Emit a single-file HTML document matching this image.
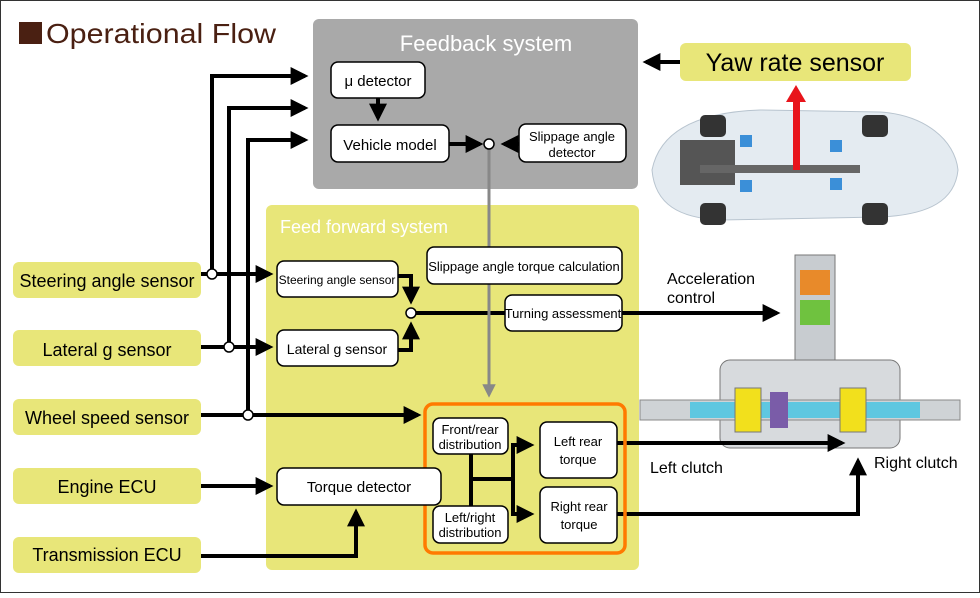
<!DOCTYPE html>
<html><head><meta charset="utf-8"><style>
body{margin:0;width:980px;height:593px;overflow:hidden;background:#fff;font-family:"Liberation Sans",sans-serif}
</style></head><body>
<svg width="980" height="593" viewBox="0 0 980 593" xmlns="http://www.w3.org/2000/svg" font-family="Liberation Sans, sans-serif">
<defs>
<marker id="a" markerWidth="4.5" markerHeight="4.5" refX="3.6" refY="2.25" orient="auto" markerUnits="strokeWidth"><path d="M0,0 L4.5,2.25 L0,4.5z" fill="#000"/></marker>
<marker id="g" markerWidth="4.5" markerHeight="4.5" refX="3.6" refY="2.25" orient="auto" markerUnits="strokeWidth"><path d="M0,0 L4.5,2.25 L0,4.5z" fill="#888"/></marker>
</defs>
<rect x="0.5" y="0.5" width="979" height="592" fill="none" stroke="#333" stroke-width="1"/>
<rect x="19" y="22" width="23" height="22" fill="#4a2012"/>
<text x="46" y="43" font-size="28" fill="#4a2012" textLength="230" lengthAdjust="spacingAndGlyphs">Operational Flow</text>
<rect x="313" y="19" width="325" height="170" rx="6" fill="#a9a9a9"/>
<text x="486" y="51" font-size="22" fill="#fff" text-anchor="middle">Feedback system</text>
<rect x="266" y="205" width="373" height="365" rx="6" fill="#e8e679"/>
<text x="280" y="233" font-size="18" fill="#fff">Feed forward system</text>
<rect x="680" y="43" width="231" height="38" rx="6" fill="#e8e679"/>
<text x="795" y="71" font-size="25" text-anchor="middle">Yaw rate sensor</text>
<line x1="680" y1="62" x2="646" y2="62" stroke="#000" stroke-width="4" marker-end="url(#a)"/>
<!-- car -->
<g>
<path d="M652,170 C660,130 700,112 760,110 L880,112 C925,115 955,140 958,170 C955,200 930,215 880,217 L720,220 C680,218 655,205 652,170z" fill="#e4ebf1" stroke="#b8c4cf"/>
<rect x="680" y="140" width="55" height="45" fill="#555"/>
<rect x="700" y="165" width="160" height="8" fill="#666"/>
<rect x="700" y="115" width="26" height="22" rx="5" fill="#333"/>
<rect x="700" y="203" width="26" height="22" rx="5" fill="#333"/>
<rect x="862" y="115" width="26" height="22" rx="5" fill="#333"/>
<rect x="862" y="203" width="26" height="22" rx="5" fill="#333"/>
<rect x="740" y="135" width="12" height="12" fill="#3b8fd8"/><rect x="740" y="180" width="12" height="12" fill="#3b8fd8"/>
<rect x="830" y="140" width="12" height="12" fill="#3b8fd8"/><rect x="830" y="178" width="12" height="12" fill="#3b8fd8"/>
<rect x="793" y="100" width="7" height="70" fill="#e8141b"/>
<path d="M786,102 L796,85 L806,102z" fill="#e8141b"/>
</g>
<!-- differential -->
<g>
<rect x="795" y="255" width="40" height="110" fill="#c8ccd0" stroke="#777"/>
<rect x="800" y="270" width="30" height="25" fill="#e88a2a"/>
<rect x="800" y="300" width="30" height="25" fill="#6fc23f"/>
<rect x="720" y="360" width="180" height="88" rx="10" fill="#d7dadd" stroke="#777"/>
<rect x="640" y="400" width="320" height="20" fill="#cfd3d6" stroke="#888"/>
<rect x="690" y="402" width="230" height="16" fill="#5fc7e0"/>
<rect x="735" y="388" width="26" height="44" fill="#f2e01c" stroke="#777"/>
<rect x="840" y="388" width="26" height="44" fill="#f2e01c" stroke="#777"/>
<rect x="770" y="392" width="18" height="36" fill="#7a5ca8"/>
</g>
<g font-size="18" text-anchor="middle" fill="#000">
<rect x="13" y="262" width="188" height="36" rx="6" fill="#e8e679"/><text x="107" y="287">Steering angle sensor</text>
<rect x="13" y="330" width="188" height="36" rx="6" fill="#e8e679"/><text x="107" y="356">Lateral g sensor</text>
<rect x="13" y="399" width="188" height="36" rx="6" fill="#e8e679"/><text x="107" y="424">Wheel speed sensor</text>
<rect x="13" y="468" width="188" height="36" rx="6" fill="#e8e679"/><text x="107" y="493">Engine ECU</text>
<rect x="13" y="537" width="188" height="36" rx="6" fill="#e8e679"/><text x="107" y="561">Transmission  ECU</text>
</g>
<g stroke="#000" stroke-width="4" fill="none">
<polyline points="212,274 212,76 305,76" marker-end="url(#a)"/>
<polyline points="229,346 229,108 305,108" marker-end="url(#a)"/>
<polyline points="248,415 248,140 305,140" marker-end="url(#a)"/>
<line x1="201" y1="274" x2="270" y2="274" marker-end="url(#a)"/>
<line x1="201" y1="347" x2="270" y2="347" marker-end="url(#a)"/>
<line x1="201" y1="415" x2="418" y2="415" marker-end="url(#a)"/>
<line x1="201" y1="486" x2="270" y2="486" marker-end="url(#a)"/>
<polyline points="201,556 356,556 356,512" marker-end="url(#a)"/>
<line x1="378" y1="98" x2="378" y2="118" marker-end="url(#a)"/>
<line x1="449" y1="144" x2="480" y2="144" marker-end="url(#a)"/>
<line x1="519" y1="144" x2="504" y2="144" marker-end="url(#a)"/>
<polyline points="398,276 411,276 411,301" marker-end="url(#a)"/>
<polyline points="398,350 411,350 411,325" marker-end="url(#a)"/>
<line x1="416" y1="313" x2="505" y2="313"/>
<line x1="622" y1="313" x2="777" y2="313" marker-end="url(#a)"/>
<line x1="471" y1="454" x2="471" y2="506"/>
<line x1="471" y1="479" x2="513" y2="479"/>
<polyline points="513,479 513,445 531,445" marker-end="url(#a)"/>
<polyline points="513,479 513,514 531,514" marker-end="url(#a)"/>
<line x1="617" y1="443" x2="842" y2="443" marker-end="url(#a)"/>
<polyline points="617,514 858,514 858,461" marker-end="url(#a)"/>
</g>
<line x1="489" y1="149" x2="489" y2="395" stroke="#888" stroke-width="3" marker-end="url(#g)"/>
<g fill="#fff" stroke="#000" stroke-width="1.5">
<circle cx="212" cy="274" r="5"/><circle cx="229" cy="347" r="5"/><circle cx="248" cy="415" r="5"/>
<circle cx="489" cy="144" r="5"/><circle cx="411" cy="313" r="5"/>
</g>
<rect x="425" y="404" width="200" height="149" rx="8" fill="none" stroke="#ff7a00" stroke-width="3.5"/>
<g fill="#fff" stroke="#000" stroke-width="1.5">
<rect x="331" y="62" width="94" height="36" rx="7"/>
<rect x="331" y="125" width="118" height="37" rx="7"/>
<rect x="519" y="124" width="107" height="38" rx="7"/>
<rect x="427" y="247" width="195" height="37" rx="7"/>
<rect x="277" y="261" width="121" height="36" rx="7"/>
<rect x="277" y="330" width="121" height="36" rx="7"/>
<rect x="505" y="295" width="117" height="36" rx="7"/>
<rect x="277" y="468" width="164" height="37" rx="7"/>
<rect x="433" y="418" width="75" height="36" rx="7"/>
<rect x="433" y="506" width="75" height="37" rx="7"/>
<rect x="540" y="422" width="77" height="56" rx="7"/>
<rect x="540" y="487" width="77" height="56" rx="7"/>
</g>
<g font-size="15" text-anchor="middle" fill="#000">
<text x="378" y="86">μ detector</text>
<text x="390" y="150">Vehicle model</text>
<text x="572" y="141" font-size="13">Slippage angle</text>
<text x="572" y="157" font-size="13">detector</text>
<text x="524" y="271" font-size="13">Slippage angle torque calculation</text>
<text x="337" y="284" font-size="12">Steering angle sensor</text>
<text x="337" y="354" font-size="14">Lateral g sensor</text>
<text x="563" y="318" font-size="13">Turning assessment</text>
<text x="359" y="492">Torque detector</text>
<g font-size="13"><text x="470" y="434">Front/rear</text><text x="470" y="449">distribution</text>
<text x="470" y="522">Left/right</text><text x="470" y="537">distribution</text>
<text x="578" y="446">Left rear</text><text x="578" y="464">torque</text>
<text x="579" y="511">Right rear</text><text x="579" y="529">torque</text></g>
</g>
<g font-size="16" fill="#000">
<text x="667" y="284">Acceleration</text><text x="667" y="303">control</text>
<text x="650" y="473">Left clutch</text>
<text x="874" y="468">Right clutch</text>
</g>
</svg>
</body></html>
